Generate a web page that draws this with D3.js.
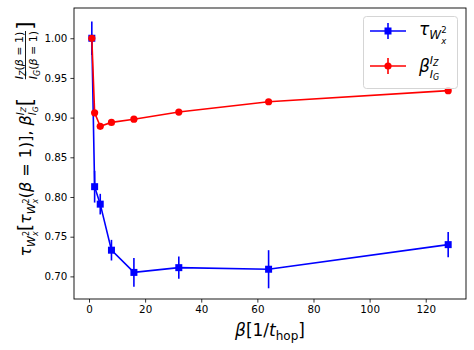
<!DOCTYPE html>
<html><head><meta charset="utf-8">
<script src="https://cdn.jsdelivr.net/npm/d3@7"></script>
<style>html,body{margin:0;padding:0;background:#fff;}svg{display:block;}</style>
</head><body>
<svg id="chart" width="474" height="350"></svg>
<script>
const betas = [1, 2, 4, 8, 16, 32, 64, 128];
const tauVals = [1.000, 0.813, 0.791, 0.733, 0.705, 0.711, 0.709, 0.740];
const tauErr = [0.021, 0.020, 0.013, 0.013, 0.018, 0.014, 0.024, 0.016];
const ratioVals = [1.000, 0.906, 0.889, 0.894, 0.898, 0.907, 0.920, 0.934];
const ratioErr = [0.002, 0.002, 0.002, 0.002, 0.002, 0.002, 0.002, 0.002];
const xTicks = [0, 20, 40, 60, 80, 100, 120];
const yTicks = [0.70, 0.75, 0.80, 0.85, 0.90, 0.95, 1.00];

const FONT = "DejaVu Sans";
const svg = d3.select("#chart");
const L = 74, R = 466, T = 8, B = 299;
const x = d3.scaleLinear().domain([-5.35, 134.35]).range([L, R]);
const y = d3.scaleLinear().domain([0.6715, 1.0381]).range([B, T]);

// axes
const xAxis = svg.append("g").attr("transform", `translate(0,${B})`)
  .call(d3.axisBottom(x).tickValues(xTicks).tickSize(3.6).tickPadding(3).tickFormat(d3.format("d")));
const yAxis = svg.append("g").attr("transform", `translate(${L},0)`)
  .call(d3.axisLeft(y).tickValues(yTicks).tickSize(3.6).tickPadding(3).tickFormat(d3.format(".2f")));
[xAxis, yAxis].forEach(a => {
  a.select(".domain").remove();
  a.selectAll(".tick line").attr("stroke", "#000").attr("stroke-width", 0.8);
  a.selectAll(".tick text").attr("font-family", FONT).attr("font-size", 10.3).attr("fill", "#000");
});
svg.append("rect").attr("x", L).attr("y", T).attr("width", R - L).attr("height", B - T)
  .attr("fill", "none").attr("stroke", "#000").attr("stroke-width", 0.9);

function series(vals, errs, color, shape) {
  const g = svg.append("g");
  const line = d3.line().x((d, i) => x(betas[i])).y(d => y(d));
  g.append("path").datum(vals).attr("d", line).attr("fill", "none")
    .attr("stroke", color).attr("stroke-width", 1.6);
  g.selectAll("line.err").data(vals).enter().append("line")
    .attr("x1", (d, i) => x(betas[i])).attr("x2", (d, i) => x(betas[i]))
    .attr("y1", (d, i) => y(d - errs[i])).attr("y2", (d, i) => y(d + errs[i]))
    .attr("stroke", color).attr("stroke-width", 1.6);
  if (shape === "square") {
    g.selectAll("rect.m").data(vals).enter().append("rect")
      .attr("x", (d, i) => x(betas[i]) - 3.5).attr("y", d => y(d) - 3.5)
      .attr("width", 7).attr("height", 7).attr("fill", color);
  } else {
    g.selectAll("circle.m").data(vals).enter().append("circle")
      .attr("cx", (d, i) => x(betas[i])).attr("cy", d => y(d)).attr("r", 3.6).attr("fill", color);
  }
}
series(tauVals, tauErr, "#0000ff", "square");
series(ratioVals, ratioErr, "#ff0000", "circle");

// legend
const lg = svg.append("g");
lg.append("rect").attr("x", 363.5).attr("y", 16.5).attr("width", 94).attr("height", 72)
  .attr("rx", 3).attr("fill", "#fff").attr("fill-opacity", 0.8)
  .attr("stroke", "#d5d5d5").attr("stroke-width", 1);
[[31, "#0000ff", "square"], [66, "#ff0000", "circle"]].forEach(([cy, c, sh]) => {
  lg.append("line").attr("x1", 370).attr("x2", 406).attr("y1", cy).attr("y2", cy).attr("stroke", c).attr("stroke-width", 1.6);
  lg.append("line").attr("x1", 388).attr("x2", 388).attr("y1", cy - 8).attr("y2", cy + 8).attr("stroke", c).attr("stroke-width", 1.6);
  if (sh === "square") lg.append("rect").attr("x", 384.5).attr("y", cy - 3.5).attr("width", 7).attr("height", 7).attr("fill", c);
  else lg.append("circle").attr("cx", 388).attr("cy", cy).attr("r", 3.6).attr("fill", c);
});
function richText(textSel) {
  let cur = 0;
  return (t, fs, it, off, dx) => {
    const ts = textSel.append("tspan").text(t).attr("font-size", fs).attr("dy", off - cur)
      .attr("font-style", it ? "italic" : "normal");
    if (dx) ts.attr("dx", dx);
    cur = off; return ts.node().getComputedTextLength();
  };
}
const lt1 = lg.append("text").attr("x", 419).attr("y", 35).attr("font-family", FONT).attr("fill", "#000");
{
  const a = richText(lt1);
  a("τ", 17, true, 0);
  a("W", 12, true, 4);
  const wx = a("x", 8.5, true, 8.5);
  a("2", 8.5, false, -2.5, -wx);
}
const lt2 = lg.append("text").attr("x", 419).attr("y", 72).attr("font-family", FONT).attr("fill", "#000");
{
  const a = richText(lt2);
  a("β", 17, true, 0);
  const w1 = a("I", 11, true, -8);
  const w2 = a("Z", 8, true, -6);
  a("I", 11, true, 5.5, -(w1 + w2));
  a("G", 8, true, 7.5);
}

// y label (rotated)
const yl = svg.append("g");
const ylt = yl.append("text").attr("x", 0).attr("y", 0).attr("font-family", FONT).attr("fill", "#000");
const ya = richText(ylt);
function tauW() {
  ya("τ", 16, true, 0);
  ya("W", 11, true, 3.5);
  const wx = ya("x", 8, true, 7);
  ya("2", 8, false, -2.5, -wx);
}
tauW();
ya("[", 18, false, 0);
tauW();
ya("(", 16, false, 0);
ya("β", 16, true, 0);
ya(" = 1)], ", 16, false, 0);
ya("β", 16, true, 0);
const s1 = ya("I", 10, true, -7.5);
const s2 = ya("Z", 7.5, true, -5.5);
ya("I", 10, true, 5, -(s1 + s2));
ya("G", 7.5, true, 7);
ya("[", 22, false, 1);
const baseLen = ylt.node().getComputedTextLength();
// fraction
const fg = yl.append("g").attr("transform", `translate(${baseLen + 1},0)`);
function fracPart(yb, sub) {
  const tx = fg.append("text").attr("y", yb).attr("font-family", FONT).attr("fill", "#000");
  const a = richText(tx);
  a("I", 11, true, 0); a(sub, 8, true, 3); a("(", 11, false, 0); a("β", 11, true, 0); a(" = 1)", 11, false, 0);
  return tx.node().getComputedTextLength();
}
const fw1 = fracPart(-8.5, "Z");
const fw2 = fracPart(6, "G");
const fw = Math.max(fw1, fw2);
fg.append("line").attr("x1", 0).attr("x2", fw).attr("y1", -5.5).attr("y2", -5.5).attr("stroke", "#000").attr("stroke-width", 0.9);
const rb = yl.append("text").attr("x", baseLen + fw + 2).attr("y", 1).attr("font-family", FONT).attr("font-size", 22).text("]");
const total = baseLen + fw + 2 + rb.node().getComputedTextLength();
const centerY = 139;
yl.attr("transform", `translate(31,${centerY + total / 2}) rotate(-90)`);

// x label
const xl = svg.append("text").attr("x", (L + R) / 2).attr("y", 336).attr("text-anchor", "middle")
  .attr("font-family", FONT).attr("fill", "#000");
{
  const a = richText(xl);
  a("β", 17, true, 0); a("[1/", 17, false, 0); a("t", 17, true, 0); a("hop", 12, false, 3.5); a("]", 17, false, 0);
}
</script>
</body></html>
